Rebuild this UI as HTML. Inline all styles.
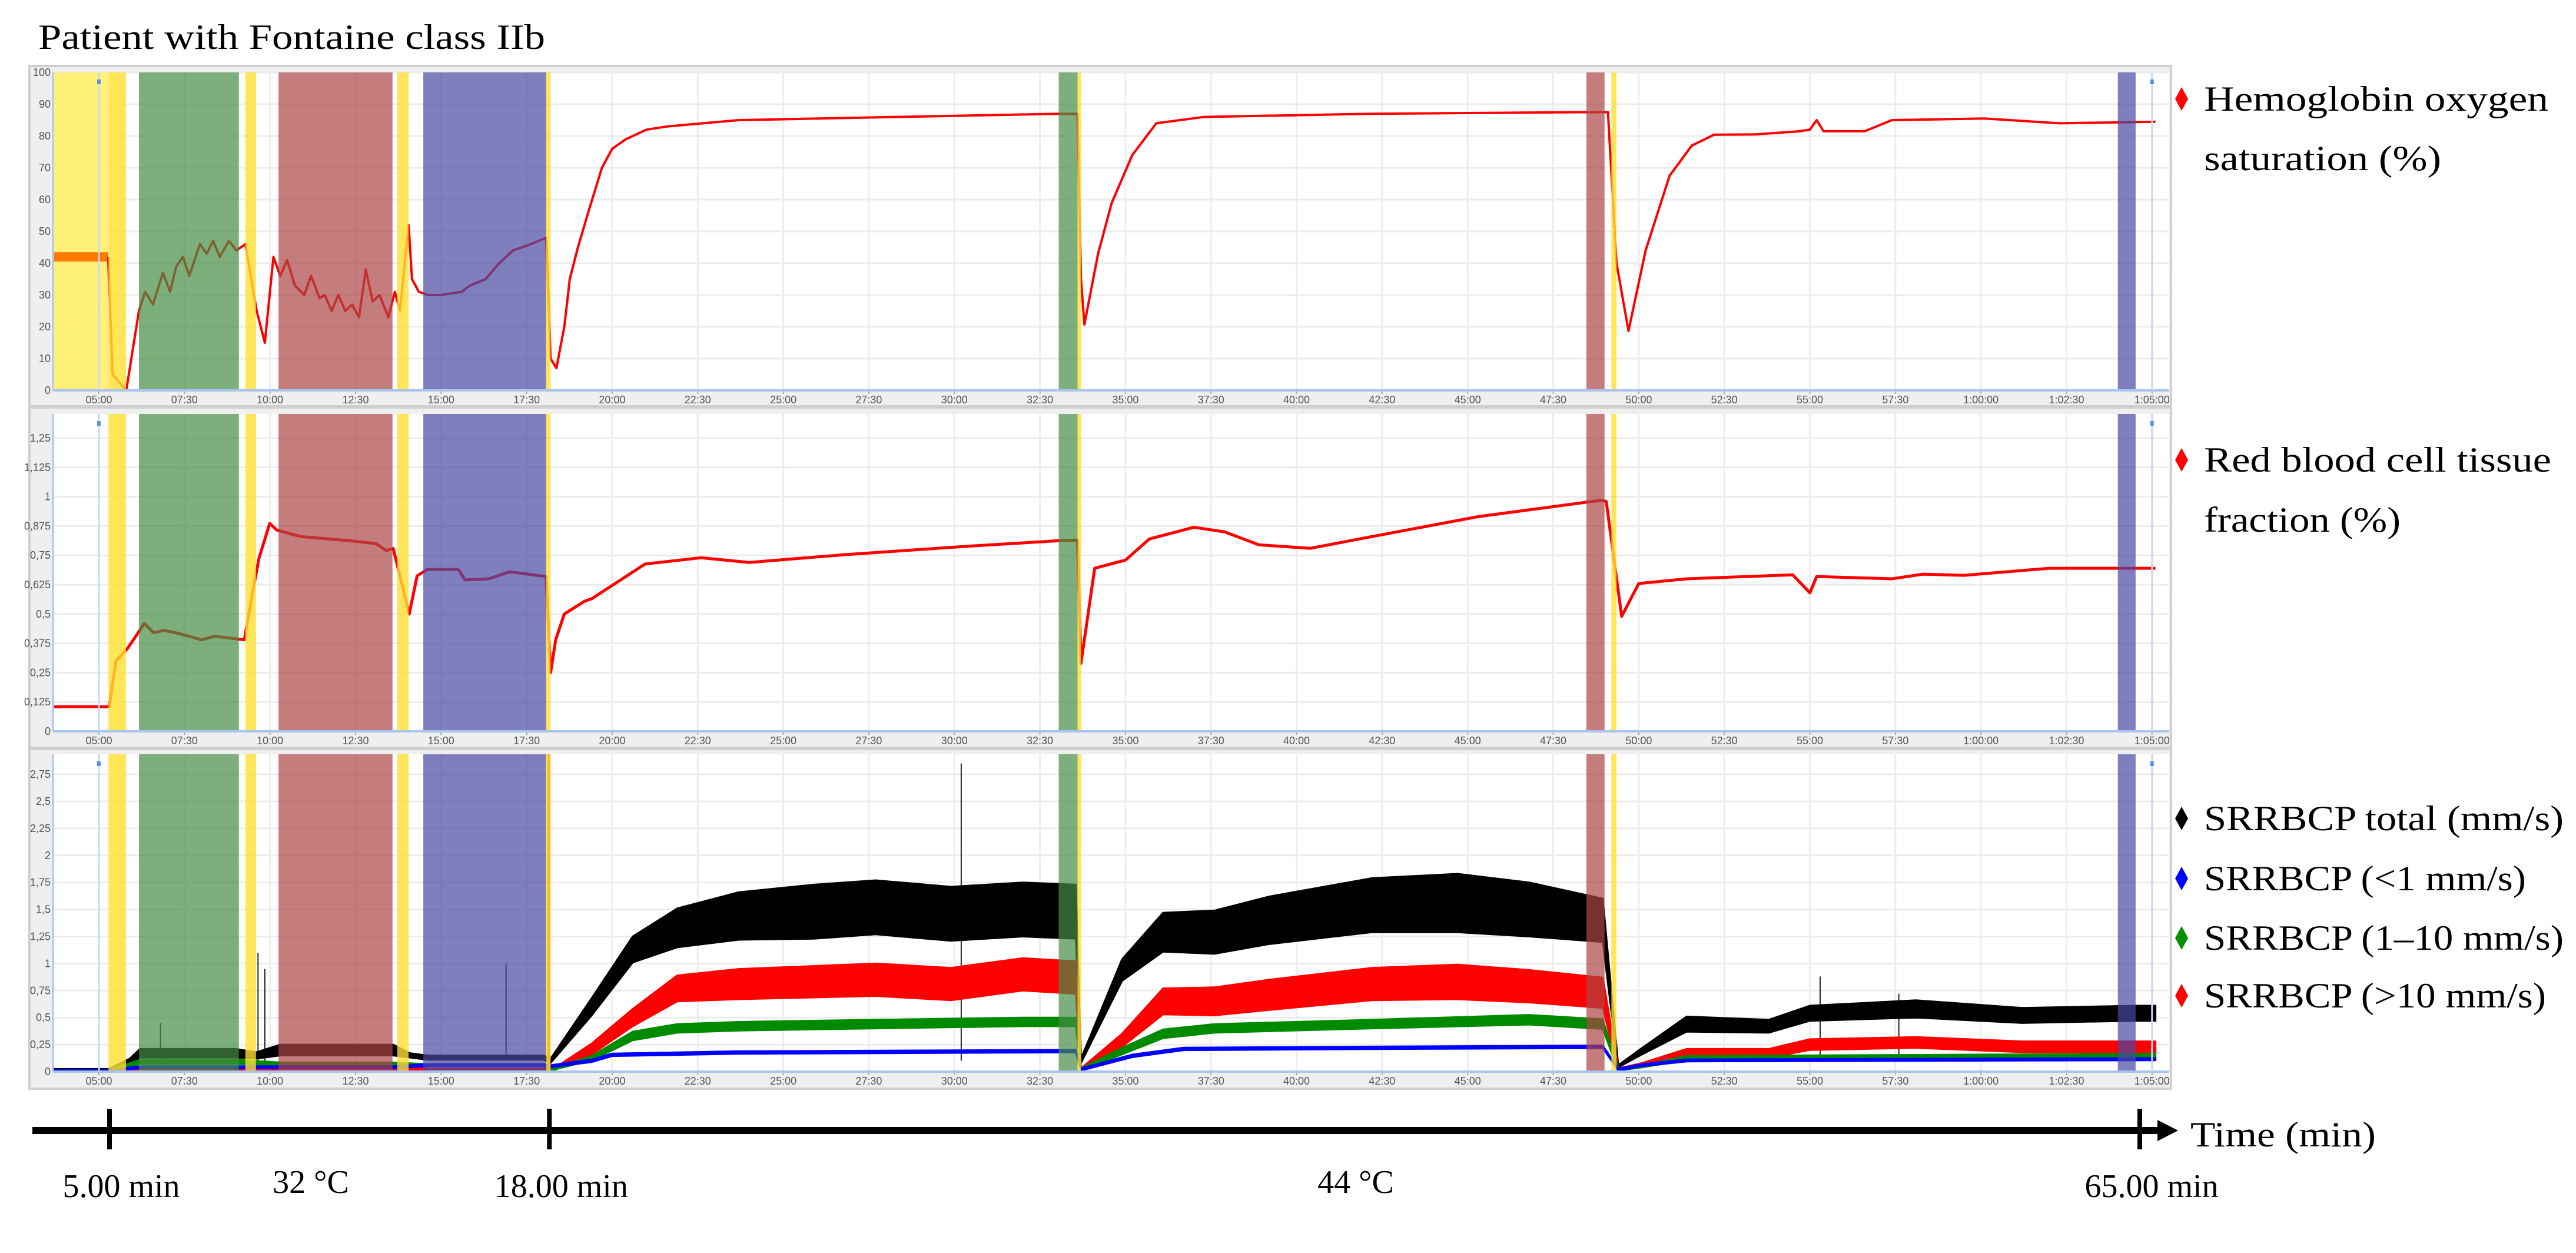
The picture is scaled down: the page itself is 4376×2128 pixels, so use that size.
<!DOCTYPE html>
<html><head><meta charset="utf-8">
<style>
html,body{margin:0;padding:0;background:#fff;}
svg{display:block;}
.serif{font-family:"Liberation Serif",serif;fill:#000;}
.tick{font-family:"Liberation Sans",sans-serif;font-size:18px;fill:#555;}
</style></head>
<body>
<svg id="root" width="4376" height="2128" viewBox="0 0 4376 2128" xmlns="http://www.w3.org/2000/svg">
<rect x="0" y="0" width="4376" height="2128" fill="#fff"/>
<text class="serif" x="65" y="83" font-size="60" textLength="861" lengthAdjust="spacingAndGlyphs">Patient with Fontaine class IIb</text>

<g id="frames">
<rect x="50" y="112" width="3638" height="578" fill="#efefef" stroke="#cfcfcf" stroke-width="4"/>
<rect x="50" y="692" width="3638" height="578" fill="#efefef" stroke="#cfcfcf" stroke-width="4"/>
<rect x="50" y="1272" width="3638" height="577" fill="#efefef" stroke="#cfcfcf" stroke-width="4"/>
</g>
<g id="plots"></g>

<g id="legend">
<g>
<path d="M3706 148 L3717 168 L3706 188 L3695 168 Z" fill="#ff0000"/>
<text class="serif" x="3744" y="168" font-size="60" dominant-baseline="central" textLength="585" lengthAdjust="spacingAndGlyphs">Hemoglobin oxygen</text>
<text class="serif" x="3744" y="269" font-size="60" dominant-baseline="central" textLength="403" lengthAdjust="spacingAndGlyphs">saturation (%)</text>
</g>
<g>
<path d="M3706 761 L3717 781 L3706 801 L3695 781 Z" fill="#ff0000"/>
<text class="serif" x="3744" y="781" font-size="60" dominant-baseline="central" textLength="590" lengthAdjust="spacingAndGlyphs">Red blood cell tissue</text>
<text class="serif" x="3744" y="883" font-size="60" dominant-baseline="central" textLength="334" lengthAdjust="spacingAndGlyphs">fraction (%)</text>
</g>
<g>
<path d="M3706 1370 L3717 1390 L3706 1410 L3695 1390 Z" fill="#000"/>
<text class="serif" x="3744" y="1390" font-size="60" dominant-baseline="central" textLength="611" lengthAdjust="spacingAndGlyphs">SRRBCP total (mm/s)</text>
</g>
<g>
<path d="M3706 1472 L3717 1492 L3706 1512 L3695 1492 Z" fill="#0000ff"/>
<text class="serif" x="3744" y="1492" font-size="60" dominant-baseline="central" textLength="547" lengthAdjust="spacingAndGlyphs">SRRBCP (&lt;1 mm/s)</text>
</g>
<g>
<path d="M3706 1573 L3717 1593 L3706 1613 L3695 1593 Z" fill="#009000"/>
<text class="serif" x="3744" y="1593" font-size="60" dominant-baseline="central" textLength="611" lengthAdjust="spacingAndGlyphs">SRRBCP (1–10 mm/s)</text>
</g>
<g>
<path d="M3706 1671 L3717 1691 L3706 1711 L3695 1691 Z" fill="#ff0000"/>
<text class="serif" x="3744" y="1691" font-size="60" dominant-baseline="central" textLength="581" lengthAdjust="spacingAndGlyphs">SRRBCP (&gt;10 mm/s)</text>
</g>
</g>

<g id="timeline">
<text class="serif" x="3721" y="1927" font-size="60" dominant-baseline="central" textLength="315" lengthAdjust="spacingAndGlyphs">Time (min)</text>
<text class="serif" x="528" y="2008" font-size="56" text-anchor="middle" dominant-baseline="central">32 °C</text>
<text class="serif" x="2303" y="2008" font-size="56" text-anchor="middle" dominant-baseline="central">44 °C</text>
</g>

<script>
// ---- data ----
const hbT = [3.69,5.27, 5.4,5.8,6.17,6.35,6.58,6.87,7.08,7.26,7.46,7.64,7.95,8.15,8.34,8.53,8.8,9.02,9.28, 9.61,9.85,10.1,10.3,10.5,10.73,11.0,11.2,11.45,11.6,11.8,12.0,12.2,12.4,12.6,12.8,13.0,13.2,13.46,13.65,13.8, 14.05,14.15,14.35,14.62,15.0,15.6,15.85,16.3,16.7,17.1,17.5,18.07, 18.14,18.2,18.37,18.6,18.76,19.0,19.3,19.7,20.0,20.4,21.0,21.6,23.7,28.3,33.1,33.6, 33.7,33.8,34.2,34.6,35.2,35.9,37.3,42.2,48.4,49.1, 49.35,49.7,50.2,50.9,51.55,52.2,53.4,54.7,55.0,55.2,55.4,56.6,57.4,60.1,62.3,65.1];
const hbV = [42,42, 5,0,25,31,27,37,31,39,42,36,46,43,47,42,47,44,46, 25,15,42,36,41,33,30,36,29,30,25,30,25,27,23,38,28,30,23,31,25, 52,35,31,30,30,31,33,35,40,44,45.5,48, 30,10,7,20,35,45,56,70,76,79,82,83,85,86,87,87, 35,20.7,43,59,74,84,86,87,87.5,87.5, 40,18.7,44,67.5,77,80.4,80.5,81.5,82,85,81.5,81.5,85,85.5,84,84.5];
const rbcT = [3.69,5.3, 5.5,5.84,6.1,6.33,6.6,6.9,7.25,7.6,8.0,8.4,9.25, 9.5,9.68,9.99,10.2,10.9,11.7,12.5,13.1,13.4,13.6, 14.07,14.3,14.6,15.5,15.7,16.4,17.0,18.07, 18.2,18.35,18.6,19.2,19.4,20.96,22.6,24.0,26.8,30.5,33.1,33.6, 33.7,34.1,35.0,35.7,37.0,37.9,38.9,40.4,42.2,45.3,47.1,48.9,49.05, 49.5,50.0,51.4,54.5,55.0,55.2,57.4,58.3,59.5,62.0,65.1];
const rbcV = [0.105,0.105, 0.3,0.354,0.41,0.46,0.42,0.43,0.42,0.407,0.39,0.405,0.39, 0.6,0.738,0.886,0.858,0.83,0.82,0.81,0.80,0.77,0.78, 0.5,0.663,0.69,0.69,0.645,0.65,0.68,0.66, 0.25,0.39,0.50,0.555,0.565,0.713,0.74,0.72,0.753,0.79,0.813,0.815, 0.29,0.695,0.73,0.82,0.87,0.85,0.795,0.78,0.83,0.915,0.95,0.985,0.98, 0.49,0.63,0.65,0.667,0.59,0.66,0.65,0.67,0.665,0.695,0.695];

const totT = [3.69,5.3, 5.9,6.2,9.0,9.6,10.3,13.6,14.1,14.6,18.0, 18.2,19.4,20.6,21.9,23.7,25.9,27.7,29.9,32.0,33.55, 33.7,34.9,36.1,37.6,39.2,42.2,44.7,46.8,48.95, 49.4,50.1,51.4,53.8,55.0,58.1,61.2,64.5,65.1];
const totV = [0.02,0.02, 0.1,0.17,0.17,0.15,0.2,0.2,0.15,0.13,0.13, 0.1,0.6,1.13,1.33,1.44,1.48,1.52,1.46,1.5,1.48, 0.1,0.94,1.29,1.29,1.40,1.54,1.56,1.5,1.40, 0.05,0.19,0.44,0.42,0.54,0.58,0.52,0.54,0.54];
const totS = [0.005,0.005, 0.02,0.04,0.04,0.03,0.05,0.05,0.02,0.02,0.02, 0.02,0.08,0.12,0.18,0.22,0.25,0.25,0.25,0.25,0.25, 0.02,0.1,0.18,0.2,0.22,0.25,0.27,0.25,0.2, 0.01,0.03,0.07,0.06,0.07,0.08,0.07,0.07,0.07];
const hiT = [3.69,5.3, 6.2,9.0,10.3,13.6,14.6,18.0, 18.2,19.4,20.6,21.9,23.7,27.7,29.9,32.0,33.55, 33.7,34.9,36.1,37.6,39.2,42.2,44.7,46.8,48.95, 49.4,50.1,51.4,53.8,55.0,58.1,61.2,65.1];
const hiV = [0.01,0.01, 0.02,0.02,0.04,0.04,0.02,0.02, 0.0,0.21,0.5,0.77,0.81,0.85,0.81,0.9,0.87, 0.02,0.29,0.65,0.65,0.71,0.81,0.83,0.79,0.73, 0.02,0.06,0.17,0.17,0.25,0.27,0.23,0.23];
const hiS = [0.005,0.005, 0.01,0.01,0.02,0.02,0.01,0.01, 0.01,0.05,0.08,0.12,0.14,0.15,0.15,0.15,0.15, 0.01,0.06,0.12,0.13,0.14,0.15,0.16,0.15,0.14, 0.01,0.02,0.04,0.04,0.05,0.05,0.05,0.05];
const midT = [3.69,5.3, 6.2,9.0,10.3,13.6,14.6,18.0, 18.2,19.4,20.6,21.9,23.7,27.7,32.0,33.55, 33.7,34.9,36.1,37.6,42.2,46.8,48.95, 49.4,50.1,51.4,65.1];
const midV = [0.01,0.01, 0.09,0.09,0.07,0.07,0.06,0.06, 0.02,0.125,0.33,0.40,0.42,0.44,0.46,0.46, 0.02,0.19,0.35,0.40,0.44,0.48,0.44, 0.02,0.05,0.125,0.146];
const midS = [0.003,0.003, 0.02,0.02,0.015,0.015,0.01,0.01, 0.01,0.02,0.04,0.04,0.04,0.04,0.04,0.04, 0.01,0.03,0.04,0.04,0.04,0.045,0.045, 0.01,0.01,0.02,0.02];
const lowT = [3.69,5.3, 6.2,9.0,10.3,13.6,14.6,18.0, 18.2,19.4,20.0,23.7,33.55, 33.7,35.2,36.7,42.2,48.95, 49.4,50.1,51.4,65.1];
const lowV = [0.01,0.01, 0.04,0.04,0.04,0.04,0.06,0.06, 0.05,0.1,0.156,0.177,0.19, 0.02,0.146,0.21,0.22,0.23, 0.02,0.06,0.104,0.115];
const lowS = [0.005,0.005, 0.01,0.01,0.01,0.01,0.01,0.01, 0.01,0.012,0.012,0.012,0.012, 0.01,0.012,0.012,0.012,0.012, 0.01,0.01,0.01,0.01];
const spikeT = [6.8, 9.65, 9.85, 16.9, 30.2, 55.3, 57.6];
const spikeV = [0.45, 1.1, 0.95, 1.0, 2.85, 0.88, 0.72];

const bandStart = [6.17, 10.25, 14.48, 33.05, 48.47, 64.0];
const bandEnd   = [9.09, 13.58, 18.07, 33.6, 49.0, 64.52];
const bandKind  = ['green','red','blue','green','red','blue'];
const stripStart = [5.28, 9.28, 13.72, 18.07, 33.6, 49.2];
const stripEnd   = [5.79, 9.59, 14.05, 18.2, 33.7, 49.35];

const xTicks = [];
for (let m = 5; m <= 65.001; m += 2.5) xTicks.push(m);
const hbTicks = [0,10,20,30,40,50,60,70,80,90,100];
const rbcTicks = [0,0.125,0.25,0.375,0.5,0.625,0.75,0.875,1,1.125,1.25];
const srTicks = [0,0.25,0.5,0.75,1,1.25,1.5,1.75,2,2.25,2.5,2.75];
const timelineT = [5, 18, 65];

// ---- scales ----
const X0 = 90, X1 = 3685;
const xT = t => 168 + (t - 5) * 58.13;
const panels = [
  {top:123, bot:663, y: v => 663 - v*5.40},
  {top:703, bot:1242, y: v => 1242 - v*398.4},
  {top:1281, bot:1820, y: v => 1820 - v*183.6}
];
const tl = t => 186 + (t - 5) * (3635 - 186) / 60;

const NS = 'http://www.w3.org/2000/svg';
const plots = document.getElementById('plots');
function mk(tag, attrs, parent) {
  const e = document.createElementNS(NS, tag);
  for (const k in attrs) e.setAttribute(k, attrs[k]);
  (parent || plots).appendChild(e);
  return e;
}
const fmtTime = m => {
  const h = Math.floor(m / 60), mm = Math.floor(m % 60), ss = Math.round((m % 1) * 60);
  const p = n => String(n).padStart(2, '0');
  return h > 0 ? h + ':' + p(mm) + ':' + p(ss) : p(mm) + ':' + p(ss);
};
const fmtDec = v => String(v).replace('.', ',');
const bandColor = {green:'rgb(69,141,69)', red:'rgb(171,68,68)', blue:'rgb(72,72,162)'};

function linePath(ts, vs, yf) {
  return ts.map((t, i) => (i ? 'L' : 'M') + xT(t).toFixed(1) + ' ' + yf(vs[i]).toFixed(1)).join(' ');
}
function envPath(ts, vs, ss, yf) {
  let d = '';
  ts.forEach((t, i) => { d += (i ? 'L' : 'M') + xT(t).toFixed(1) + ' ' + yf(vs[i] + ss[i]).toFixed(1) + ' '; });
  for (let i = ts.length - 1; i >= 0; i--) d += 'L' + xT(ts[i]).toFixed(1) + ' ' + yf(Math.max(0, vs[i] - ss[i])).toFixed(1) + ' ';
  return d + 'Z';
}

panels.forEach((P, pi) => {
  const g = mk('g', {});
  
  
  const bg = mk('rect', {x:X0, y:P.top, width:X1 - X0, height:P.bot - P.top, fill:'#fff'}, g);
  
  
  const ticks = pi === 0 ? hbTicks : (pi === 1 ? rbcTicks : srTicks);
  ticks.forEach(v => {
    const yy = P.y(v);
    const gl = mk('line', {x1:X0, x2:X1, y1:yy, y2:yy, stroke:'#ececec', 'stroke-width':3}, g);
    
    
    const tx = mk('text', {x:86, y:yy, 'text-anchor':'end', 'dominant-baseline':'central', class:'tick'}, g);
    
    
    tx.textContent = pi === 0 ? String(v) : fmtDec(v);
  });
  xTicks.forEach(m => {
    const xx = xT(m);
    const gl = mk('line', {x1:xx, x2:xx, y1:P.top, y2:P.bot, stroke:'#ededed', 'stroke-width':3}, g);
    
    
    const tk = mk('line', {x1:xx, x2:xx, y1:P.bot, y2:P.bot + 6, stroke:'#9ab', 'stroke-width':2}, g);
    
    
    const tx = mk('text', {x:xx, y:P.bot + 16, 'text-anchor':'middle', 'dominant-baseline':'central', class:'tick'}, g);
    
    
    tx.textContent = fmtTime(m);
  });
  if (pi === 0) {
    const ly = mk('rect', {x:X0 + 2, y:P.top, width:xT(5.28) - X0 - 2, height:P.bot - P.top, fill:'#fff07a'}, g);
    
    
  }
  if (pi === 0) {
    const pre = mk('path', {d:linePath(hbT.slice(0, 2), hbV.slice(0, 2), P.y), stroke:'#ff7a00', 'stroke-width':16, fill:'none'}, g);
    
    
    const ln = mk('path', {d:linePath(hbT.slice(1), hbV.slice(1), P.y), stroke:'#ff0000', 'stroke-width':4, fill:'none', 'stroke-linejoin':'round'}, g);
    
    
  } else if (pi === 1) {
    const ln = mk('path', {d:linePath(rbcT, rbcV, P.y), stroke:'#ff0000', 'stroke-width':5, fill:'none', 'stroke-linejoin':'round'}, g);
    
    
  } else {
    spikeT.forEach((t, i) => {
      const s = mk('line', {x1:xT(t), x2:xT(t), y1:P.y(0.1), y2:P.y(spikeV[i]), stroke:'#222', 'stroke-width':2}, g);
      
      
    });
    const tot = mk('path', {d:envPath(totT, totV, totS, P.y), fill:'#000', stroke:'#000', 'stroke-width':3}, g);
    
    
    const hi = mk('path', {d:envPath(hiT, hiV, hiS, P.y), fill:'#ff0000', stroke:'#ff0000', 'stroke-width':3}, g);
    
    
    const mid = mk('path', {d:envPath(midT, midV, midS, P.y), fill:'#008a00', stroke:'#008a00', 'stroke-width':3}, g);
    
    
    const low = mk('path', {d:envPath(lowT, lowV, lowS, P.y), fill:'#0000ff', stroke:'#0000ff', 'stroke-width':3}, g);
    
    
    const rl = mk('line', {x1:xT(18.15), x2:xT(18.15), y1:P.top, y2:P.bot, stroke:'#e03000', 'stroke-width':5}, g);
    
    
  }
  bandStart.forEach((s, i) => {
    const r = mk('rect', {x:xT(s), y:P.top, width:xT(bandEnd[i]) - xT(s), height:P.bot - P.top, fill:bandColor[bandKind[i]], 'fill-opacity':0.7}, g);
    
    
  });
  stripStart.forEach((s, i) => {
    const r = mk('rect', {x:xT(s), y:P.top, width:xT(stripEnd[i]) - xT(s), height:P.bot - P.top, fill:'#ffe030', 'fill-opacity':0.8}, g);
    
    
  });
  const ax = mk('line', {x1:X0, x2:X1, y1:P.bot, y2:P.bot, stroke:'#a9c4ee', 'stroke-width':4}, g);
  
  
  const ay = mk('line', {x1:X0, x2:X0, y1:P.top, y2:P.bot, stroke:'#a9c4ee', 'stroke-width':3}, g);
  
  
  [5, 65].forEach(t => {
    const vl = mk('line', {x1:xT(t), x2:xT(t), y1:P.top, y2:P.bot, stroke:'#c8d8f4', 'stroke-width':3}, g);
    
    
    const mkq = mk('rect', {x:xT(t) - 3, y:P.top + 12, width:6, height:8, fill:'#5b8fe8'}, g);
    
    
  });
});

// ---- timeline ----
const tlg = document.getElementById('timeline');
const axl = mk('line', {x1:55, x2:3672, y1:1920, y2:1920, stroke:'#000', 'stroke-width':12}, tlg);


const arr = mk('path', {d:'M3665 1902 L3700 1920 L3665 1938 Z', fill:'#000'}, tlg);


timelineT.forEach(t => {
  const tk = mk('line', {x1:tl(t), x2:tl(t), y1:1883, y2:1952, stroke:'#000', 'stroke-width':8}, tlg);
  
  
  const lb = mk('text', {x:tl(t) + 20, y:2015, 'text-anchor':'middle', 'dominant-baseline':'central', class:'serif', 'font-size':56}, tlg);
  
  
  lb.textContent = t.toFixed(2) + ' min';
});
</script>
</svg>
</body></html>
